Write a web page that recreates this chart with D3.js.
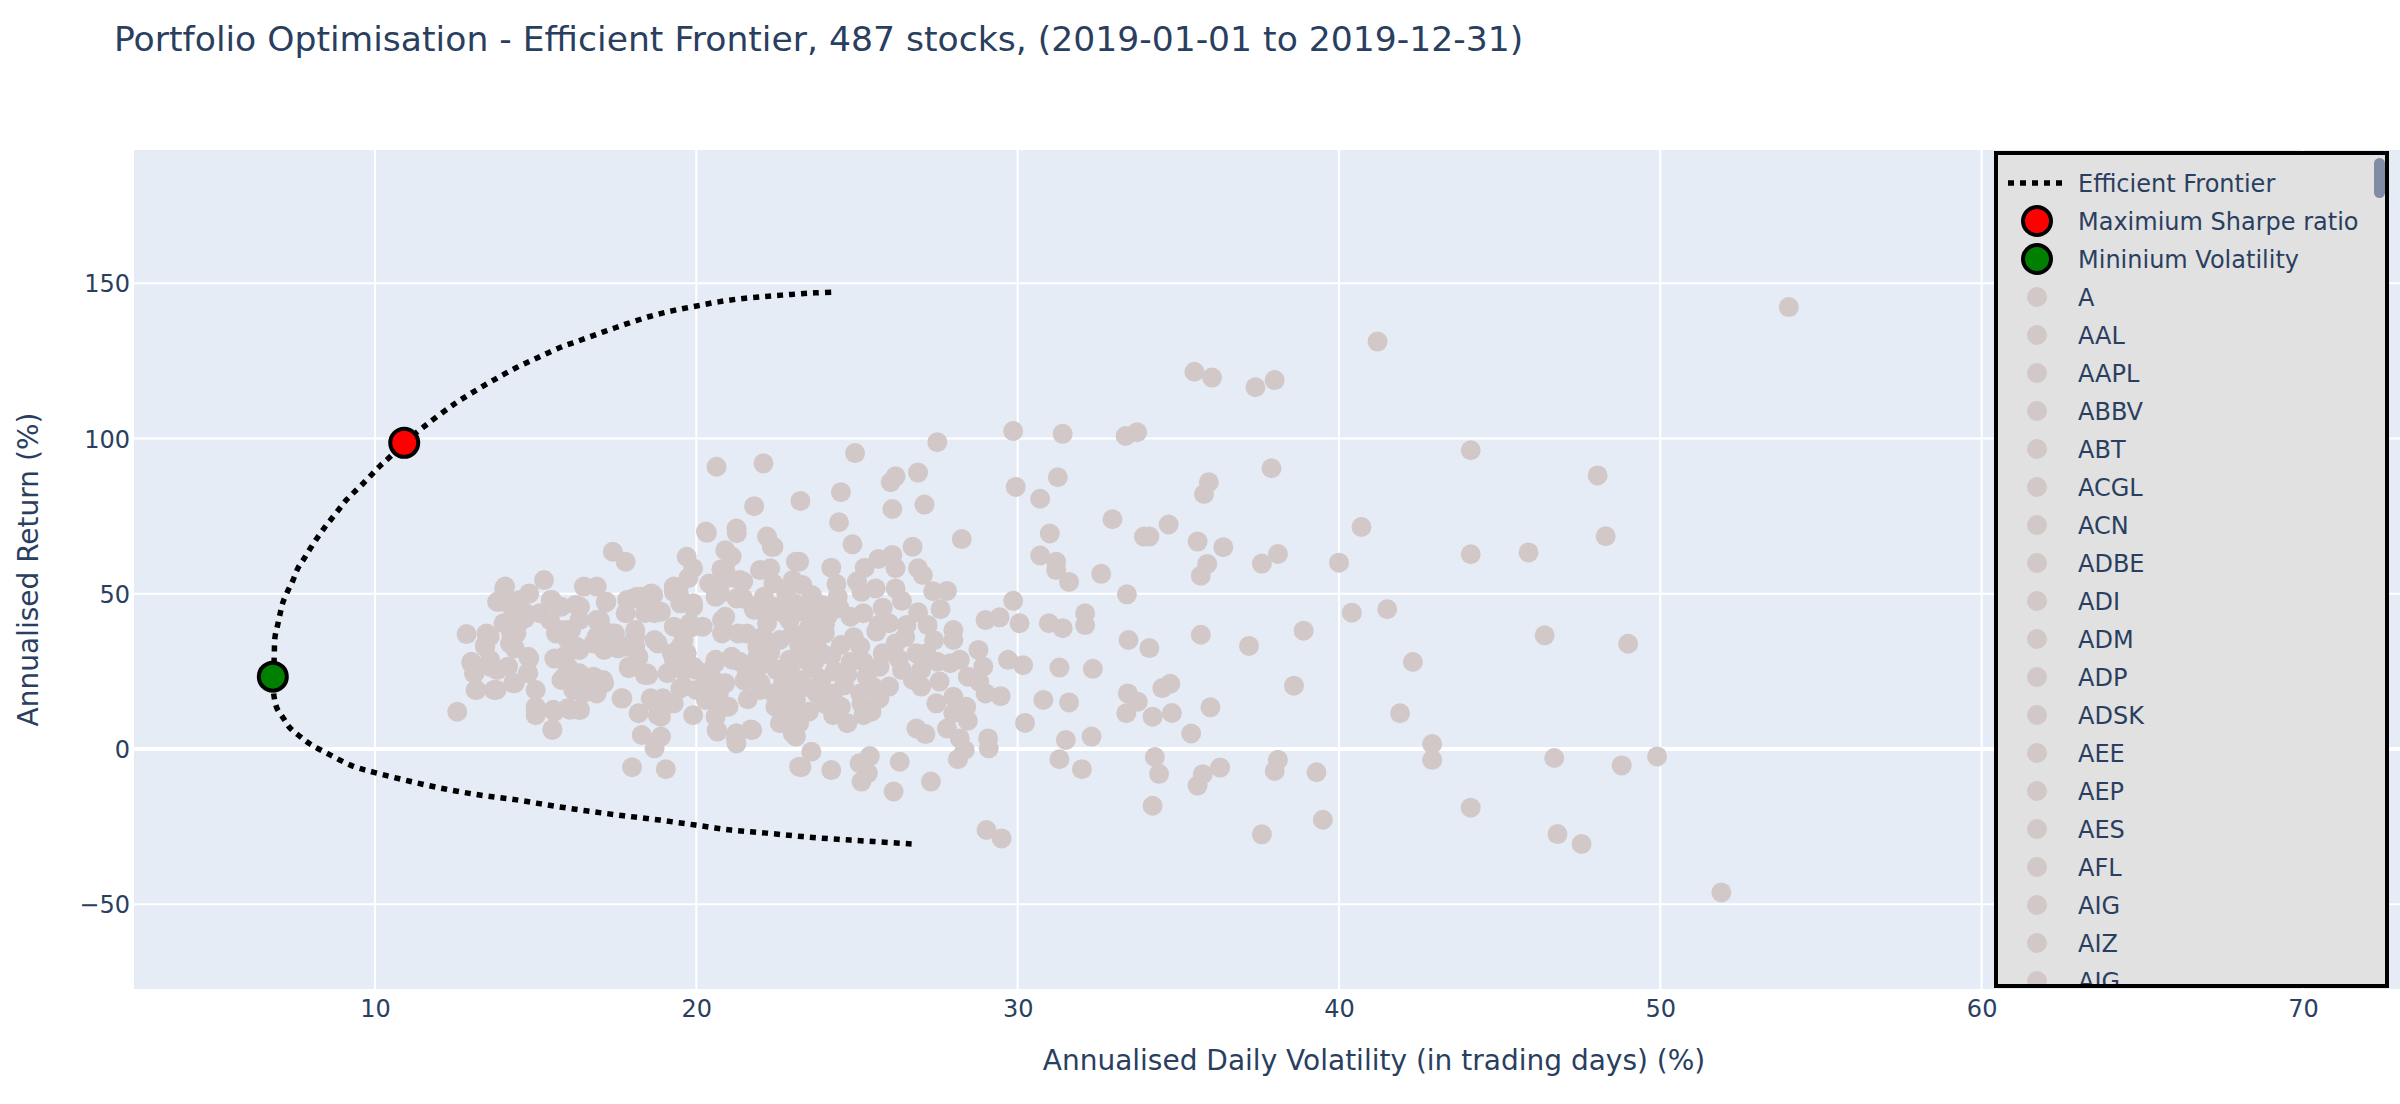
<!DOCTYPE html>
<html>
<head>
<meta charset="utf-8">
<script src="https://cdn.jsdelivr.net/npm/d3@7"></script>
<style>
  body { margin: 0; background: #fff; }
  svg { display: block; font-family: "DejaVu Sans", Verdana, sans-serif; }
</style>
</head>
<body>
<div id="chart"></div>
<script>
const width = 2400, height = 1104;

const titleText = "Portfolio Optimisation - Efficient Frontier, 487 stocks, (2019-01-01 to 2019-12-31)";
const xTitle = "Annualised Daily Volatility (in trading days) (%)";
const yTitle = "Annualised Return (%)";

const xTicks = [10, 20, 30, 40, 50, 60, 70];
const yTicks = [-50, 0, 50, 100, 150];

// efficient frontier, bottom end -> min volatility -> top end  [vol, ret]
const frontier = [
  [26.7,-30.6],[25.52,-29.8],[24.41,-29.1],[23.3,-28.2],[22.19,-27.1],[21.07,-26.1],
  [19.97,-24.5],[18.85,-22.9],[17.74,-21.5],[16.63,-20.0],[15.52,-18.3],[14.41,-16.4],
  [13.3,-14.9],[12.19,-12.9],[11.08,-10.4],[10.0,-7.6],[9.33,-5.6],[8.6,-1.9],
  [7.98,1.6],[7.67,4.0],[7.36,6.7],[7.15,9.9],[6.95,13.1],[6.86,16.8],[6.82,23.3],
  [6.86,28.7],[6.89,36.2],[6.97,39.9],[7.05,43.7],[7.14,47.4],[7.3,51.2],[7.45,54.4],
  [7.6,58.2],[7.78,61.1],[7.97,64.3],[8.19,67.8],[8.41,71.0],[8.63,73.9],[8.88,77.2],
  [9.11,80.2],[9.36,82.8],[9.63,85.5],[9.89,88.3],[10.15,91.1],[10.47,94.1],[10.91,98.6],
  [11.56,104.1],[12.47,111.1],[13.08,115.1],[13.69,118.8],[14.36,122.6],[15.02,125.8],
  [15.69,129.0],[16.41,131.7],[17.13,134.4],[17.8,136.8],[18.52,139.2],[19.24,141.1],
  [19.97,142.6],[20.69,144.0],[21.46,145.1],[22.24,145.8],[22.96,146.4],[23.7,146.9],[24.38,147.2]
];

const maxSharpe = [10.91, 98.6];
const minVol = [6.82, 23.3];

const legendTickers = ["A","AAL","AAPL","ABBV","ABT","ACGL","ACN","ADBE","ADI","ADM",
  "ADP","ADSK","AEE","AEP","AES","AFL","AIG","AIZ","AJG"];

// individual stocks [vol, ret]
const stockPoints = [
  [54.0,142.3],[41.2,131.2],[35.5,121.5],[36.05,119.6],[37.4,116.5],[38.0,118.8],[44.1,96.2],
  [48.05,88.1],[37.9,90.4],[35.95,85.9],[35.8,82.1],[34.7,72.3],[34.1,68.4],[35.6,66.8],
  [36.4,65.0],[48.3,68.5],[40.7,71.5],[45.9,63.3],[44.1,62.7],[40.0,60.0],[38.1,62.8],
  [37.6,59.7],[35.9,59.6],[35.7,55.8],[40.4,43.9],[41.5,45.0],[35.7,36.8],[37.2,33.2],
  [38.9,38.1],[46.4,36.6],[49.0,33.9],[42.3,28.0],[34.1,32.5],[34.5,19.6],[34.75,21.0],
  [38.6,20.4],[34.2,10.4],[34.8,11.6],[36.0,13.4],[35.4,5.0],[41.9,11.5],[42.9,1.6],
  [42.9,-3.5],[46.7,-2.9],[48.8,-5.3],[49.9,-2.4],[34.27,-2.6],[34.4,-8.0],[35.76,-8.1],
  [35.6,-11.8],[36.3,-6.0],[38.1,-3.5],[38.0,-7.1],[39.3,-7.5],[44.1,-18.9],[34.2,-18.3],
  [37.6,-27.5],[39.5,-22.8],[46.8,-27.4],[47.55,-30.6],[51.9,-46.2],
  [29.86,102.4],[31.4,101.5],[33.36,100.8],[33.72,102.0],[27.5,98.8],[24.94,95.3],
  [23.24,79.9],[24.5,82.7],[26.05,85.9],[26.2,87.8],[26.9,89.0],[26.1,77.3],[27.1,78.7],
  [29.94,84.4],[30.7,80.6],[31.25,87.5],[32.95,74.0],
  [24.44,73.0],[24.86,65.9],[26.73,65.1],[28.26,67.6],[31.0,69.4],[33.93,68.4],[30.7,62.3],
  [31.2,60.3],[31.2,57.6],[31.6,53.8],[32.6,56.4],[33.4,49.8],[29.86,47.7],[24.2,58.4],
  [23.2,60.3],[24.36,53.1],[25.24,58.4],[25.67,61.2],[26.1,62.5],[26.2,58.2],[25.0,53.9],
  [25.14,50.6],[25.58,51.7],[26.9,58.2],[27.05,56.0],[27.37,50.8],[27.8,50.9],[26.2,51.7],
  [26.4,47.7],[23.9,46.4],[24.46,45.3],[24.8,42.6],[25.2,43.7],[23.3,44.8],[25.67,39.9],
  [26.0,40.5],[26.54,39.9],[27.2,39.9],[25.6,37.8],[28.0,38.3],[28.0,35.1],[29.0,41.5],
  [29.44,42.4],[30.06,40.5],[30.97,40.5],[31.4,38.9],[32.1,43.7],[32.1,39.9],[33.45,35.1],
  [28.78,31.9],[28.93,26.5],[28.2,28.7],[27.9,27.6],[29.7,28.7],[30.17,27.0],[31.3,26.2],
  [32.34,25.8],[26.2,34.0],[26.85,30.8],[27.16,30.8],[27.5,28.1],[25.8,30.8],[25.7,26.5],
  [25.2,28.1],[25.3,23.3],[26.4,25.4],[26.74,22.2],[27.0,20.1],[27.57,21.7],[26.0,20.1],
  [25.7,16.3],[25.1,17.9],[25.14,14.7],[24.26,17.9],[23.84,17.4],[24.5,13.6],[24.26,10.9],
  [24.7,8.3],[25.2,10.9],[25.45,12.0],[28.45,23.3],[28.8,21.7],[29.0,17.9],[29.47,17.0],
  [28.0,16.8],[28.4,13.6],[27.47,14.7],[28.0,11.5],[28.45,9.1],[27.8,6.6],[28.2,3.4],
  [28.35,-0.3],[28.14,-3.3],[26.85,6.6],[27.13,4.8],[29.08,3.4],[29.1,0.2],[30.23,8.4],
  [30.8,15.8],[31.6,15.0],[31.3,-3.3],[31.5,2.9],[32.0,-6.5],[32.3,4.0],[33.43,17.9],
  [33.74,15.2],[33.38,11.5],[23.58,-0.9],[23.2,-5.7],[24.2,-6.8],[25.08,-4.6],[25.4,-2.3],
  [25.34,-7.8],[25.14,-10.5],[26.33,-4.1],[26.14,-13.7],[27.3,-10.5],[29.03,-26.1],[29.5,-28.8],
  [23.5,35.0],[24.0,37.2],[23.8,32.0],[24.5,33.5],[24.2,30.0],[23.3,29.0],[24.8,28.0],
  [23.6,26.0],[24.3,25.0],[23.9,22.5],[24.6,20.5],[23.4,20.0],[23.0,23.5],[24.0,40.0],[23.6,42.0],
  [22.4,53.3],[23.0,54.4],[23.3,52.8],[23.2,44.2],[22.4,45.8],[21.98,44.8],[21.77,45.8],
  [22.6,35.1],[23.0,37.2],[23.43,36.2],[23.64,31.9],[22.5,25.4],[22.9,26.5],[23.2,22.2],
  [22.8,20.1],[22.4,17.9],[22.7,13.6],[23.1,15.8],[23.0,10.4],[21.98,19.0],[21.8,25.4],
  [21.98,32.9],[21.1,29.7],[21.35,28.1],[20.6,28.7],[20.9,42.6],[20.85,38.3],[20.9,13.6],
  [20.5,15.8],[20.6,10.4],[20.3,70.0],[21.25,71.0],[21.8,78.2],[22.2,68.4],[22.4,65.1],
  [23.1,60.3],[20.9,64.0],[21.1,62.0],[20.9,57.6],[21.35,54.4],[21.98,57.6],[22.3,58.2],
  [20.4,53.3],[20.6,49.0],[21.25,48.5],[19.7,61.9],[19.9,58.2],[19.75,55.0],[19.3,52.3],
  [19.5,46.9],[19.9,45.8],[18.03,48.5],[18.66,49.6],[18.9,44.2],[18.4,43.7],[17.8,43.7],
  [18.1,38.3],[18.1,32.9],[18.2,29.7],[18.8,34.0],[19.3,39.4],[19.5,32.9],[19.9,39.4],
  [20.2,39.4],[19.3,28.7],[19.7,30.8],[20.0,25.4],[19.6,25.4],[19.1,24.4],[17.9,26.0],
  [18.5,23.8],[17.67,16.3],[18.2,11.5],[18.66,15.2],[19.3,14.7],[18.9,10.4],[19.5,19.5],
  [20.0,19.0],[20.3,15.8],[20.6,21.7],[20.7,17.9],[23.27,-5.9],[21.23,3.4],[21.7,6.3],
  [23.06,4.5],[20.66,5.6],[22.6,8.3],[22.8,11.5],[23.74,17.9],[23.8,46.4],[18.0,-5.9],
  [19.05,-6.5],[18.7,0.2],[18.3,4.5],[18.9,4.0],[12.56,12.0],[15.52,6.3],
  [14.05,52.3],[14.8,50.1],[13.86,47.4],[15.5,48.0],[16.5,52.3],[16.9,52.3],[17.2,47.4],
  [14.1,40.5],[14.67,42.1],[14.4,37.2],[14.2,34.0],[13.47,37.2],[13.42,33.5],[12.85,37.0],
  [13.0,28.1],[13.1,24.4],[13.16,19.0],[13.7,19.0],[13.58,26.5],[14.3,21.2],[14.77,29.7],
  [14.77,24.4],[15.0,19.0],[15.0,12.6],[15.55,12.6],[15.86,29.7],[15.9,23.3],[16.17,19.0],
  [16.48,22.2],[16.9,19.0],[17.1,22.2],[16.07,12.6],[16.38,12.6],[15.96,38.3],[16.28,32.9],
  [17.0,41.5],[17.2,37.2],[16.8,34.0],[17.4,32.9],[16.38,45.8],[15.77,38.3],[15.45,41.5],
  [15.13,43.7],[14.56,44.2],[14.25,45.8],[14.5,48.0],[15.26,54.4],[17.4,63.5],[17.8,60.3],
  [20.63,90.9],[22.09,92.0],[20.33,69.6],[21.26,69.5],[22.35,65.1],[14.02,51.7],[17.18,47.2],
  [20.78,57.9],[20.96,55.0],[21.46,53.9],[21.46,48.5],[18.15,49.0],[18.6,50.1],[19.3,50.6],
  [19.84,46.4],[18.7,43.7],[15.47,48.0],[15.8,45.8],[16.25,46.4],[13.8,47.4],[14.47,45.8],
  [14.7,43.7],[14.24,41.0],[16.36,41.5],[16.9,41.5],[17.1,38.3],[17.47,37.2],[17.8,32.9],
  [18.1,36.2],[18.7,35.1],[19.8,40.5],[19.6,35.1],[20.8,41.5],[20.8,37.2],[21.57,37.2],
  [21.9,32.9],[20.58,27.6],[21.13,28.7],[21.57,25.4],[20.9,21.2],[20.24,24.4],[19.24,30.8],
  [19.9,26.5],[18.46,24.4],[17.9,26.5],[17.7,16.3],[18.58,16.3],[18.96,16.3],[19.24,14.7],
  [18.8,10.9],[19.6,20.1],[20.13,19.0],[21.0,13.6],[19.9,10.9],[20.63,6.1],[21.25,5.1],
  [21.74,6.1],[21.25,1.8],[22.0,21.2],[22.46,13.6],[23.0,5.1],[22.7,21.2],[22.57,25.4],
  [22.9,28.7],[21.9,29.7],[22.07,36.2],[21.3,37.2],[21.8,44.8],[22.7,43.7],[23.06,46.9],
  [22.8,50.1],[20.74,50.1],[19.46,50.1],[19.9,46.9],[17.85,48.0],[18.3,49.0],[18.7,44.8],
  [13.57,36.2],[13.43,32.9],[13.0,27.6],[13.08,24.4],[13.13,19.0],[13.78,19.0],[14.35,21.2],
  [14.8,29.1],[14.75,24.4],[14.24,37.2],[14.35,32.4],[14.14,26.5],[13.8,25.4],[13.58,28.7],
  [14.0,40.5],[14.47,40.5],[14.35,43.7],[15.0,13.6],[15.0,10.9],[15.52,6.1],[15.58,12.0],
  [16.0,13.1],[16.36,12.6],[15.8,22.2],[15.9,29.1],[16.0,26.5],[16.36,24.4],[16.25,19.0],
  [16.8,23.3],[17.13,21.2],[16.9,17.9],[16.47,17.9],[16.0,35.1],[16.36,31.9],[16.1,38.3],
  [16.9,36.2],[17.13,31.9],[17.4,37.2],[17.57,32.4],[15.63,37.2],[15.58,29.1],[18.4,23.8],
  [23.2,8.3],[23.1,4.0],
  [22.2,40.5],[22.9,41.5],[23.5,39.0],[22.3,31.0],[23.2,33.5],[22.0,27.0],[23.7,28.5],
  [22.6,15.5],[24.0,14.5],[23.5,12.0],[21.6,16.0],[21.5,22.0],[24.9,36.0],[25.1,33.0],
  [24.7,24.0],[22.1,49.0],[23.6,49.5],[24.4,49.0],[24.1,43.0],[26.9,44.0],[27.6,45.0],
  [25.8,45.5],[26.5,36.0],[27.4,35.0],[27.0,25.5],[26.3,29.0],[25.5,20.0]
];

const textColor = "#2a3f5f";
const stockColor = "#d2c8c8";

const svg = d3.select("#chart").append("svg")
  .attr("width", width)
  .attr("height", height);

// plot area (figure was wider than the picture, right part is cut off)
const plot = { left: 134, top: 150, right: 2614, bottom: 989 };

const x = d3.scaleLinear().domain([2.5, 79.68]).range([plot.left, plot.right]);
const y = d3.scaleLinear().domain([-77.3, 192.9]).range([plot.bottom, plot.top]);

svg.append("defs").append("clipPath").attr("id", "plot-clip")
  .append("rect")
  .attr("x", plot.left).attr("y", plot.top)
  .attr("width", plot.right - plot.left).attr("height", plot.bottom - plot.top);

svg.append("rect")
  .attr("x", plot.left).attr("y", plot.top)
  .attr("width", plot.right - plot.left).attr("height", plot.bottom - plot.top)
  .attr("fill", "#e5ecf6");

// grid
const grid = svg.append("g");
grid.selectAll(".vgrid").data(xTicks).join("line")
  .attr("x1", d => x(d)).attr("x2", d => x(d))
  .attr("y1", plot.top).attr("y2", plot.bottom)
  .attr("stroke", "#fff").attr("stroke-width", 2);
grid.selectAll(".hgrid").data(yTicks).join("line")
  .attr("x1", plot.left).attr("x2", plot.right)
  .attr("y1", d => y(d)).attr("y2", d => y(d))
  .attr("stroke", "#fff").attr("stroke-width", d => d === 0 ? 4 : 2);

// axes (labels only, plotly style)
const xAxis = svg.append("g")
  .attr("transform", `translate(0,${plot.bottom})`)
  .call(d3.axisBottom(x).tickValues(xTicks).tickSize(0).tickPadding(0));
xAxis.select(".domain").remove();
xAxis.selectAll("text")
  .attr("y", 28).attr("dy", 0)
  .attr("font-size", 24).attr("font-family", "DejaVu Sans").attr("fill", textColor);

const yAxis = svg.append("g")
  .attr("transform", `translate(${plot.left},0)`)
  .call(d3.axisLeft(y).tickValues(yTicks).tickSize(0).tickPadding(0)
    .tickFormat(d => d < 0 ? "\u2212" + Math.abs(d) : d));
yAxis.select(".domain").remove();
yAxis.selectAll("text")
  .attr("x", -4).attr("dy", "0.36em")
  .attr("font-size", 24).attr("font-family", "DejaVu Sans").attr("fill", textColor);

const marks = svg.append("g").attr("clip-path", "url(#plot-clip)");

marks.selectAll(".stock").data(stockPoints).join("circle")
  .attr("class", "stock")
  .attr("cx", d => x(d[0])).attr("cy", d => y(d[1]))
  .attr("r", 10)
  .attr("fill", stockColor);

const line = d3.line()
  .x(d => x(d[0])).y(d => y(d[1]))
  .curve(d3.curveCatmullRom);

marks.append("path")
  .datum(frontier)
  .attr("d", line)
  .attr("fill", "none")
  .attr("stroke", "#000")
  .attr("stroke-width", 5.5)
  .attr("stroke-dasharray", "6,6");

marks.append("circle")
  .attr("cx", x(maxSharpe[0])).attr("cy", y(maxSharpe[1]))
  .attr("r", 14).attr("fill", "red").attr("stroke", "#000").attr("stroke-width", 4);
marks.append("circle")
  .attr("cx", x(minVol[0])).attr("cy", y(minVol[1]))
  .attr("r", 14).attr("fill", "green").attr("stroke", "#000").attr("stroke-width", 4);

// titles
svg.append("text")
  .attr("x", 114).attr("y", 51)
  .attr("font-size", 34.6).attr("fill", textColor)
  .text(titleText);

svg.append("text")
  .attr("x", 1374).attr("y", 1070)
  .attr("text-anchor", "middle")
  .attr("font-size", 28).attr("fill", textColor)
  .text(xTitle);

svg.append("text")
  .attr("transform", `translate(38,${(plot.top + plot.bottom) / 2}) rotate(-90)`)
  .attr("text-anchor", "middle")
  .attr("font-size", 28).attr("fill", textColor)
  .text(yTitle);

// legend box (scrollable in the original, only the first rows visible)
const lg = { x: 1996, y: 153, w: 391, h: 833 };
svg.select("defs").append("clipPath").attr("id", "legend-clip")
  .append("rect").attr("x", lg.x).attr("y", lg.y).attr("width", lg.w).attr("height", lg.h);

svg.append("rect")
  .attr("x", lg.x).attr("y", lg.y).attr("width", lg.w).attr("height", lg.h)
  .attr("fill", "#e1e1e1");

const legend = svg.append("g").attr("clip-path", "url(#legend-clip)");
const symX = 2037, textX = 2078, rowH = 38, firstRow = 183;

legend.append("line")
  .attr("x1", 2008).attr("x2", 2066)
  .attr("y1", firstRow).attr("y2", firstRow)
  .attr("stroke", "#000").attr("stroke-width", 5.5).attr("stroke-dasharray", "6,6");

legend.append("circle").attr("cx", symX).attr("cy", firstRow + rowH)
  .attr("r", 14).attr("fill", "red").attr("stroke", "#000").attr("stroke-width", 4);
legend.append("circle").attr("cx", symX).attr("cy", firstRow + 2 * rowH)
  .attr("r", 14).attr("fill", "green").attr("stroke", "#000").attr("stroke-width", 4);

const legendLabels = ["Efficient Frontier", "Maximium Sharpe ratio", "Mininium Volatility"]
  .concat(legendTickers);

legend.selectAll(".stock-sym").data(legendTickers).join("circle")
  .attr("cx", symX).attr("cy", (d, i) => firstRow + (i + 3) * rowH)
  .attr("r", 10).attr("fill", stockColor);

legend.selectAll(".lbl").data(legendLabels).join("text")
  .attr("x", textX).attr("y", (d, i) => firstRow + i * rowH)
  .attr("dy", "0.36em")
  .attr("font-size", 24).attr("fill", textColor)
  .text(d => d);

// scrollbar
svg.append("rect")
  .attr("x", 2374).attr("y", 158).attr("width", 11).attr("height", 40)
  .attr("rx", 5.5).attr("fill", "#808ba4");

svg.append("rect")
  .attr("x", lg.x).attr("y", lg.y).attr("width", lg.w).attr("height", lg.h)
  .attr("fill", "none").attr("stroke", "#000").attr("stroke-width", 4);
</script>
</body>
</html>
